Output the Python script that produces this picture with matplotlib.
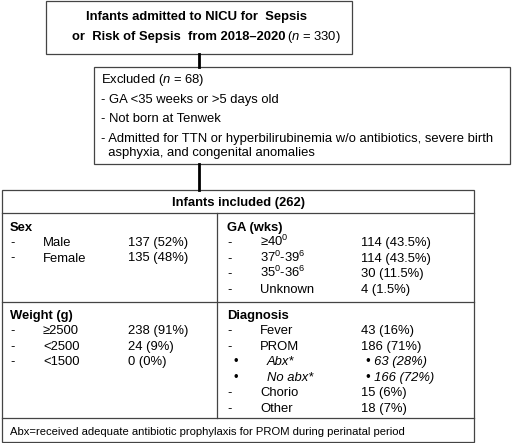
import matplotlib.pyplot as plt
from matplotlib.patches import Rectangle

plt.rcParams['font.family'] = ['Liberation Sans', 'DejaVu Sans']
plt.rcParams['mathtext.fontset'] = 'custom'
plt.rcParams['mathtext.rm'] = 'Liberation Sans'
plt.rcParams['mathtext.it'] = 'Liberation Sans:italic'
plt.rcParams['mathtext.bf'] = 'Liberation Sans:bold'

# flowchart texts
top_line1 = "Infants admitted to NICU for  Sepsis"
top_line2 = "or  Risk of Sepsis  from 2018–2020"
top_n = r"($\it{n}$ = 330)"
excluded_title = r"Excluded ($\it{n}$ = 68)"
excluded_items = ["- GA <35 weeks or >5 days old",
                  "- Not born at Tenwek",
                  "- Admitted for TTN or hyperbilirubinemia w/o antibiotics, severe birth",
                  "  asphyxia, and congenital anomalies"]
included_title = "Infants included (262)"

sex_labels = ["Male", "Female"]
sex_values = ["137 (52%)", "135 (48%)"]
ga_labels = [r"≥40$^{0}$", r"37$^{0}$-39$^{6}$", r"35$^{0}$-36$^{6}$", "Unknown"]
ga_values = ["114 (43.5%)", "114 (43.5%)", "30 (11.5%)", "4 (1.5%)"]
weight_labels = ["≥2500", "<2500", "<1500"]
weight_values = ["238 (91%)", "24 (9%)", "0 (0%)"]
diag_labels = ["Fever", "PROM", "Abx*", "No abx*", "Chorio", "Other"]
diag_values = ["43 (16%)", "186 (71%)", "63 (28%)", "166 (72%)", "15 (6%)", "18 (7%)"]
diag_sub = [False, False, True, True, False, False]
footnote = "Abx=received adequate antibiotic prophylaxis for PROM during perinatal period"

fig = plt.figure(figsize=(5.2, 4.43), dpi=100)
ax = fig.add_axes([0, 0, 1, 1])
ax.set_xlim(0, 520)
ax.set_ylim(443, 0)
ax.axis('off')

edge = '#444444'
fs = 9.4


def box(x0, y0, x1, y1):
    ax.add_patch(Rectangle((x0, y0), x1 - x0, y1 - y0, fill=False,
                           edgecolor=edge, linewidth=0.9))


def hline(x0, x1, y):
    ax.plot([x0, x1], [y, y], color=edge, linewidth=0.9)


def txt(x, y, s, **kw):
    # y is the visual middle of the capitals; draw on the baseline
    kw.setdefault('fontsize', fs)
    kw.setdefault('ha', 'left')
    ax.text(x, y + 4, s, va='baseline', **kw)


# top box
box(46, 0.5, 352, 54)
txt(197, 16, top_line1, ha='center', fontweight='bold')
txt(285, 36, top_line2, ha='right', fontweight='bold')
txt(287, 36, top_n)

# connectors
ax.plot([199, 199], [54, 67], color='black', linewidth=2)
ax.plot([199, 199], [164, 190], color='black', linewidth=2)

# excluded box
box(94, 67, 510, 164)
txt(101, 79, excluded_title)
for y, t in zip([99, 118, 138, 152], excluded_items):
    txt(101, y, t)

# table
box(2, 190, 474, 442)
hline(2, 474, 213)
hline(2, 474, 302)
hline(2, 474, 418)
ax.plot([217, 217], [213, 418], color=edge, linewidth=0.9)
txt(238, 202, included_title, ha='center', fontweight='bold')

# Sex
txt(10, 227, "Sex", fontweight='bold')
for i, (l, v) in enumerate(zip(sex_labels, sex_values)):
    y = 242 + 15.5 * i
    txt(10, y, "-")
    txt(43, y, l)
    txt(128, y, v)

# GA
txt(227, 227, "GA (wks)", fontweight='bold')
for i, (l, v) in enumerate(zip(ga_labels, ga_values)):
    y = 242 + 15.6 * i
    txt(227, y, "-")
    txt(260, y, l)
    txt(361, y, v)

# Weight
txt(10, 315, "Weight (g)", fontweight='bold')
for i, (l, v) in enumerate(zip(weight_labels, weight_values)):
    y = 330 + 15.7 * i
    txt(10, y, "-")
    txt(43, y, l)
    txt(128, y, v)

# Diagnosis
txt(227, 315, "Diagnosis", fontweight='bold')
for i, (l, v, sub) in enumerate(zip(diag_labels, diag_values, diag_sub)):
    y = 330 + 15.6 * i
    if sub:
        txt(234, y, "•")
        txt(267, y, l, style='italic')
        txt(366, y, "• " + v, style='italic')
    else:
        txt(227, y, "-")
        txt(260, y, l)
        txt(361, y, v)

txt(10, 431, footnote, fontsize=8.1)

fig.savefig('out.png', dpi=100)
